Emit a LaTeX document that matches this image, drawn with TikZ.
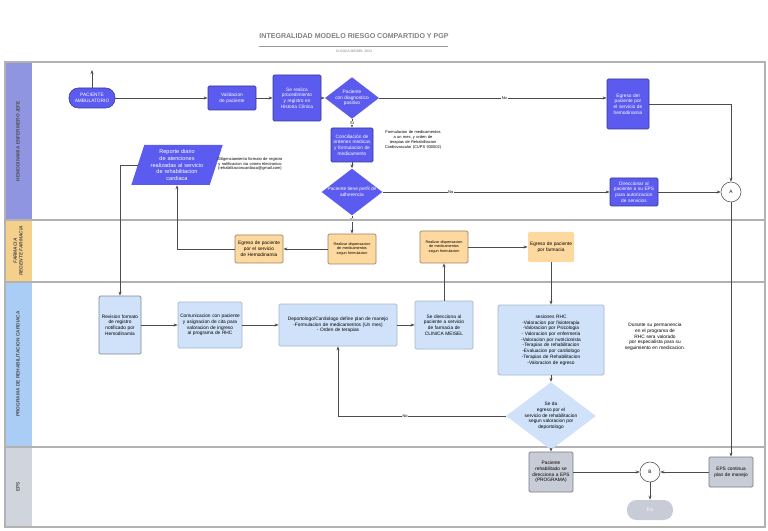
\documentclass[tikz,border=0pt]{standalone}
\usepackage{fontspec}
\setmainfont{Liberation Sans}
\usetikzlibrary{shapes.geometric,arrows.meta}
\definecolor{hemo}{HTML}{5B5BF0}
\definecolor{hemolane}{HTML}{8F95E0}
\definecolor{far}{HTML}{FDD9A0}
\definecolor{farlane}{HTML}{F5D08A}
\definecolor{rhc}{HTML}{CFE2F9}
\definecolor{rhclane}{HTML}{A9CDF5}
\definecolor{eps}{HTML}{C8CCD6}
\definecolor{epslane}{HTML}{D0D4DC}
\hyphenpenalty=10000
\exhyphenpenalty=10000
\begin{document}
\begin{tikzpicture}[x=0.75pt,y=-0.75pt,
  txt/.style={font=\fontsize{3.6}{4.3}\selectfont,align=center},
  bx/.style={txt,rectangle,rounded corners=1pt,draw=#1!60!black,line width=0.6pt,
    inner sep=1pt},
  hb/.style={bx=hemo,fill=hemo,text=white},
  fb/.style={bx=far,fill=far},
  rb/.style={bx=rhc,fill=rhc},
  eb/.style={bx=eps,fill=eps},
  dia/.style={txt,diamond,aspect=1.3,inner sep=0pt,fill=#1},
  circ/.style={txt,circle,draw=black!70,fill=white,minimum size=20*0.75pt,inner sep=0pt},
  pill/.style={txt,rounded corners=7pt,inner sep=1pt},
  note/.style={txt,font=\fontsize{3}{3.6}\selectfont},
  lane/.style={draw=black!30,line width=0.8pt},
  arr/.style={draw=black!70,line width=0.6pt,-{Stealth[length=3pt]}},
  lbl/.style={font=\fontsize{3}{3.6}\selectfont,fill=white,inner sep=0.5pt}]
\useasboundingbox (0,0) rectangle (768,531);
% title
\node[font=\bfseries\fontsize{5.3}{6}\selectfont,text=black!50] (title) at (354,36) {INTEGRALIDAD MODELO RIESGO COMPARTIDO Y PGP};
\draw[black!40,line width=0.5pt] (259,46) -- (448,46);
\node[font=\fontsize{2.6}{3}\selectfont,text=black!50] (sub) at (354,51) {CLINICA MEISEL 2023};
% lanes
\fill[hemolane] (5,62) rectangle (32,220);
\fill[farlane] (5,220) rectangle (32,282);
\fill[rhclane] (5,282) rectangle (32,447);
\fill[epslane] (5,447) rectangle (32,527);
\draw[lane] (5,62) rectangle (765,527);
\foreach \y in {220,282,447} \draw[lane] (5,\y) -- (765,\y);
\node[rotate=90,font=\bfseries\fontsize{3.6}{4.3}\selectfont,text=black!70] (l1) at (18,141) {HEMODINAMIA ENFERMERO JEFE};
\node[rotate=90,font=\bfseries\itshape\fontsize{3.6}{4.3}\selectfont,align=center,text=black!70] (l2) at (18,251) {FARMACIA\\REGENTE FARMACIA};
\node[rotate=90,font=\bfseries\fontsize{3.6}{4.3}\selectfont,text=black!70] (l3) at (18,364) {PROGRAMA DE REHABILITACION CARDIACA};
\node[rotate=90,font=\bfseries\fontsize{3.6}{4.3}\selectfont,text=black!70] (l4) at (18,487) {EPS};
% hemodinamia
\node[pill,fill=hemo,draw=hemo!60!black,text=white,minimum width=46*0.75pt,minimum height=20*0.75pt] (pac) at (92,98) {PACIENTE\\AMBULATORIO};
\coordinate (up) at (92,70);
\node[hb,minimum width=48*0.75pt,minimum height=24*0.75pt,text width=30pt] (val) at (232,98) {Validacion de paciente};
\node[hb,minimum width=48*0.75pt,minimum height=46*0.75pt,text width=33pt] (reg) at (297,98) {Se realiza procedimiento y registro en Historia Clinica};
\node[dia=hemo,minimum width=42*0.75pt,minimum height=32*0.75pt,text=white] (d1) at (352,98) {Paciente\\con diagnostico\\positivo};
\node[hb,minimum width=42*0.75pt,minimum height=50*0.75pt,text width=28pt] (egh) at (628,104) {Egreso del paciente por el servicio de hemodinamia};
\node[hb,minimum width=42*0.75pt,minimum height=34*0.75pt,text width=29pt] (conc) at (352,145) {Conciliación de ordenes medicas y formulacion de medicamento};
\node[note,text width=54pt] (n1) at (413,140) {Formulacion de medicamentos a un mes, y orden de terapias de Rehabilitacion Cardiovascular (CUPS 930002)};
\node[dia=hemo,minimum width=46*0.75pt,minimum height=42*0.75pt,text=white] (d2) at (352,192) {Paciente tiene perfil de\\adherencia};
\node[hb,minimum width=48*0.75pt,minimum height=28*0.75pt,text width=33pt] (dir) at (634,192) {Direccionar al paciente a su EPS para autorizacion de servicios};
\node[circ] (A) at (731,192) {A};
\node[txt,trapezium,trapezium left angle=72,trapezium right angle=108,fill=hemo,text=white,
  minimum width=68*0.75pt,minimum height=40*0.75pt,text width=42pt,font=\fontsize{4.2}{5}\selectfont] (rep) at (177,165) {Reporte diario de atenciones realizadas al servicio de rehabilitacion cardiaca};
\node[note,text width=60pt] (n2) at (250,164) {Diligenciamiento formato de registro y notificacion via correo electronico (rehabilitacioncardiaca@gmail.com)};
% farmacia
\node[fb,minimum width=48*0.75pt,minimum height=30*0.75pt,text width=32pt,font=\fontsize{2.8}{3.4}\selectfont] (far1) at (352,249) {Realizar dispensacion de medicamentos segun formulacion};
\node[fb,minimum width=48*0.75pt,minimum height=28*0.75pt,text width=32pt] (egf1) at (259,249) {Egreso de paciente por el servicio de Hemodinamia};
\node[fb,minimum width=48*0.75pt,minimum height=32*0.75pt,text width=32pt,font=\fontsize{2.8}{3.4}\selectfont] (far2) at (444,247) {Realizar dispensacion de medicamentos segun formulacion};
\node[fb,draw=none,minimum width=46*0.75pt,minimum height=30*0.75pt,text width=32pt] (egf2) at (551,247) {Egreso de paciente por farmacia};
% rehabilitacion
\node[rb,minimum width=42*0.75pt,minimum height=58*0.75pt,text width=28pt] (rev) at (120,325) {Revision formato de registro notificado por Hemodinamia};
\node[rb,draw=rhc!80!black,minimum width=64*0.75pt,minimum height=46*0.75pt,text width=45pt] (com) at (210,325) {Comunicacion con paciente y asignacion de cita para valoracion de ingreso al programa de RHC};
\node[rb,draw=rhc!80!black,minimum width=118*0.75pt,minimum height=42*0.75pt,text width=84pt] (dep) at (338,325) {Deportologo/Cardiologo define plan de manejo\\-Formulacion de medicamentos (Un mes)\\- Orden de terapias};
\node[rb,draw=rhc!80!black,minimum width=58*0.75pt,minimum height=48*0.75pt,text width=40pt] (sdir) at (444,325) {Se direcciona al paciente a servicio de farmacia de CLINICA MEISEL};
\node[rb,draw=rhc!80!black,minimum width=106*0.75pt,minimum height=70*0.75pt,text width=76pt] (ses) at (551,340) {sesiones RHC\\-Valoracion por fisioterapia\\-Valoracion por Psicologia\\- Valoracion por enfermeria\\-Valoracion por nutricionista\\-Terapias de rehabilitacion\\-Evaluacion por cardiologo\\-Terapias de Rehabilitacion\\-Valoracion de egreso};
\node[txt,text width=48pt] (n3) at (655,337) {Durante su permanencia en el programa de RHC sera valorado por especialista para su seguimiento en medicacion.};
\node[dia=rhc,minimum width=90*0.75pt,minimum height=46*0.75pt] (d3) at (551,416) {Se da\\egreso por el\\servicio de rehabilitacion\\segun valoracion por\\deportologo};
% eps
\node[eb,minimum width=44*0.75pt,minimum height=40*0.75pt,text width=31pt] (prh) at (551,472) {Paciente rehabilitado se direcciona a EPS (PROGRAMA)};
\node[eb,minimum width=44*0.75pt,minimum height=30*0.75pt,text width=31pt] (epsb) at (731,472) {EPS continua plan de manejo};
\node[circ] (B) at (650,472) {B};
\node[pill,fill=eps,text=white,minimum width=46*0.75pt,minimum height=20*0.75pt] (fin) at (650,510) {Fin};
% connectors
\draw[arr] (pac) -- (up);
\draw[arr] (pac) -- (val);
\draw[arr] (val) -- (reg);
\draw[arr] (reg) -- (d1);
\draw[arr] (d1.east) -- node[lbl,pos=0.55]{No} (d1.east -| egh.west);
\draw[arr] (d1) -- node[lbl,pos=0.5]{Si} (conc);
\draw[arr] (conc) -- (d2);
\draw[arr] (d2) -- node[lbl,pos=0.3]{No} (dir);
\draw[arr] (d2) -- node[lbl,pos=0.25]{Si} (far1);
\draw[arr] (dir) -- (A);
\draw[arr] (egh.east) -| (A);
\draw[arr] (A) -- (epsb);
\draw[arr] (far1) -- (egf1);
\draw[arr] (egf1.west) -| (rep.south);
\draw[arr] (rep.west) -| (rev.north);
\draw[arr] (rev) -- (com);
\draw[arr] (com) -- (dep);
\draw[arr] (dep) -- (sdir);
\draw[arr] (sdir) -- (far2);
\draw[arr] (far2) -- (egf2);
\draw[arr] (egf2) -- (ses);
\draw[arr] (ses) -- (d3);
\draw[arr] (d3.west) -| node[lbl,pos=0.3]{No} (dep.south);
\draw[arr] (d3) -- (prh);
\draw[arr] (prh) -- (B);
\draw[arr] (epsb) -- (B);
\draw[arr] (B) -- (fin);
\end{tikzpicture}
\end{document}
